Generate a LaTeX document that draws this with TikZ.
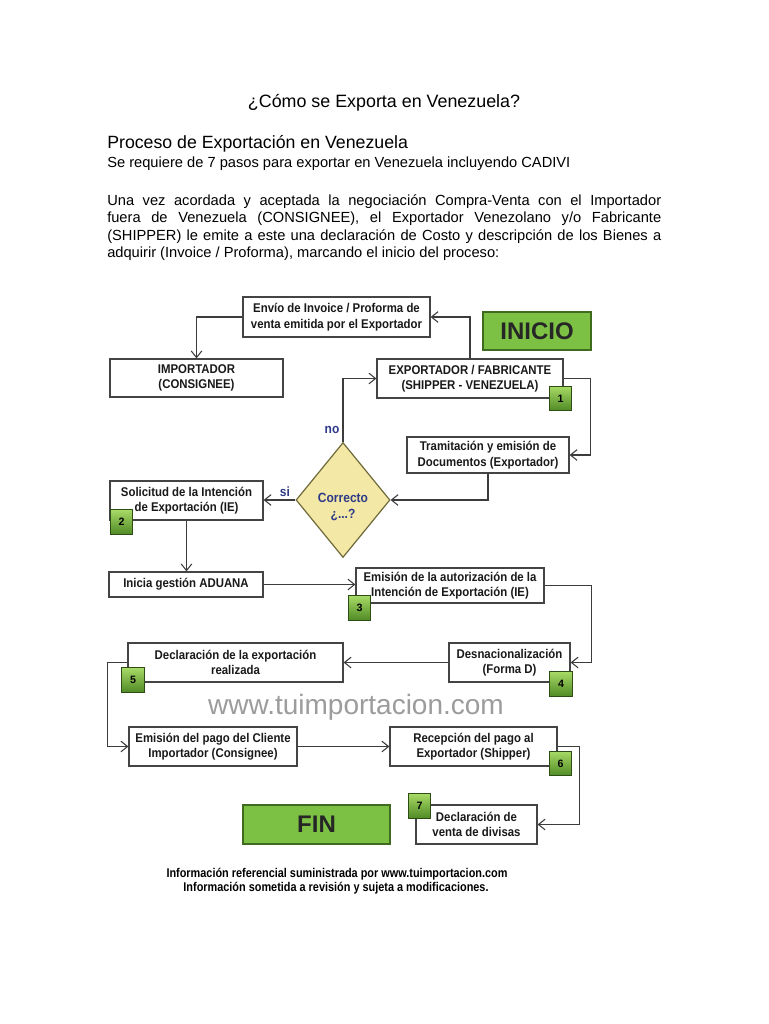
\documentclass[tikz,border=0pt]{standalone}
\usepackage{fontspec}
\setmainfont{Liberation Sans}
\newfontfamily\boxfont{Liberation Sans}[FakeStretch=0.9]
\newfontfamily\footfont{Liberation Sans}[FakeStretch=0.86]
\usetikzlibrary{arrows.meta,shapes.geometric}
\definecolor{boxline}{HTML}{444444}
\definecolor{arrline}{HTML}{3C3C3C}
\definecolor{gfill}{HTML}{7CC144}
\definecolor{gline}{HTML}{3E6B1E}
\definecolor{btop}{HTML}{A8DA66}
\definecolor{bbot}{HTML}{4F8A24}
\definecolor{bline}{HTML}{2E4D16}
\definecolor{dfill}{HTML}{F3E8A6}
\definecolor{dline}{HTML}{6E6A3A}
\definecolor{navy}{HTML}{2F3A88}
\definecolor{wmark}{HTML}{9C9C9C}
\tikzset{
  procbox/.style={draw=boxline, line width=0.9pt, fill=white, inner sep=0pt, align=center,
    text=black!90, font=\boxfont\bfseries\fontsize{9.5}{11.6}\selectfont},
  greenbox/.style={draw=gline, line width=1pt, fill=gfill, inner sep=0pt,
    font=\bfseries\fontsize{18}{20}\selectfont, text=black!85},
  badge/.style={draw=bline, line width=0.8pt, top color=btop, bottom color=bbot,
    minimum width=17pt, minimum height=18.5pt, inner sep=0pt,
    font=\bfseries\fontsize{8}{9}\selectfont, text=black},
  arr/.style={draw=arrline, line width=0.8pt, -{Straight Barb[length=5pt,width=8pt]}},
  navylbl/.style={text=navy, font=\boxfont\bfseries\fontsize{10}{12}\selectfont, inner sep=0pt},
}
\begin{document}
\begin{tikzpicture}[x=0.75pt,y=-0.75pt]
\useasboundingbox (0,0) rectangle (768,1024);
\fill[white] (0,0) rectangle (768,1024);

% header text
\node[anchor=base, inner sep=0pt, font=\fontsize{13.4}{16}\selectfont] (title) at (384,108) {¿Cómo se Exporta en Venezuela?};
\node[anchor=base west, inner sep=0pt, font=\fontsize{13.3}{16}\selectfont] (head) at (107,148) {Proceso de Exportación en Venezuela};
\node[anchor=base west, inner sep=0pt, font=\fontsize{11}{13}\selectfont] (sub) at (107,167) {Se requiere de 7 pasos para exportar en Venezuela incluyendo CADIVI};
\node[anchor=base west, inner sep=0pt, font=\fontsize{11}{13}\selectfont] (p1) at (107,205) {\makebox[415.5pt][s]{Una vez acordada y aceptada la negociación Compra-Venta con el Importador}};
\node[anchor=base west, inner sep=0pt, font=\fontsize{11}{13}\selectfont] (p2) at (107,222.5) {\makebox[415.5pt][s]{fuera de Venezuela (CONSIGNEE), el Exportador Venezolano y/o Fabricante}};
\node[anchor=base west, inner sep=0pt, font=\fontsize{11}{13}\selectfont] (p3) at (107,240) {\makebox[415.5pt][s]{(SHIPPER) le emite a este una declaración de Costo y descripción de los Bienes a}};
\node[anchor=base west, inner sep=0pt, font=\fontsize{11}{13}\selectfont] (p4) at (107,257.5) {adquirir (Invoice / Proforma), marcando el inicio del proceso:};

% watermark
\node[text=wmark, inner sep=0pt, font=\fontsize{21}{24}\selectfont] (wm) at (356,707) {www.tuimportacion.com};

% boxes
\node[procbox, minimum width=140.25pt, minimum height=30pt] (envio) at (336.5,317) {Envío de Invoice / Proforma de\\venta emitida por el Exportador};
\node[greenbox, minimum width=81pt, minimum height=28.5pt] (inicio) at (537,331) {INICIO};
\node[procbox, minimum width=129.75pt, minimum height=28.5pt] (importador) at (196.5,378) {IMPORTADOR\\(CONSIGNEE)};
\node[procbox, minimum width=139.5pt, minimum height=29.25pt] (exportador) at (470,378.5) {EXPORTADOR / FABRICANTE\\(SHIPPER - VENEZUELA)};
\node[procbox, minimum width=121.5pt, minimum height=27pt] (tramitacion) at (488,455) {Tramitación y emisión de\\Documentos (Exportador)};
\node[diamond, draw=dline, line width=0.9pt, fill=dfill, minimum width=70.5pt, minimum height=86.25pt, inner sep=0pt] (decision) at (343,500) {};
\node[navylbl, align=center] (dtext) at (343,507) {Correcto\\¿...?};
\node[procbox, minimum width=114.75pt, minimum height=29.25pt] (solicitud) at (186.5,500.5) {Solicitud de la Intención\\de Exportación (IE)};
\node[procbox, minimum width=115.5pt, minimum height=18.75pt] (inicia) at (186,584.5) {Inicia gestión ADUANA};
\node[procbox, minimum width=141pt, minimum height=26.25pt] (emisionaut) at (450,585.5) {Emisión de la autorización de la\\Intención de Exportación (IE)};
\node[procbox, minimum width=90.75pt, minimum height=29.25pt] (desnac) at (509.5,662.5) {Desnacionalización\\(Forma D)};
\node[procbox, minimum width=161.25pt, minimum height=29.25pt] (declaracion) at (235.5,662.5) {Declaración de la exportación\\realizada};
\node[procbox, minimum width=126pt, minimum height=29.25pt] (emisionpago) at (213,746.5) {Emisión del pago del Cliente\\Importador (Consignee)};
\node[procbox, minimum width=125.25pt, minimum height=29.25pt] (recepcion) at (473.5,746.5) {Recepción del pago al\\Exportador (Shipper)};
\node[procbox, minimum width=90.75pt, minimum height=29.25pt] (divisas) at (476.5,824.5) {Declaración de\\venta de divisas};
\node[greenbox, minimum width=110.25pt, minimum height=29.25pt] (fin) at (316.5,824.5) {FIN};

% labels
\node[navylbl] (no) at (332,430) {no};
\node[navylbl] (si) at (285,492) {si};

% connectors
\draw[arr] (exportador.north) |- (envio.east);
\draw[arr] (envio.west) -| (importador.north);
\draw[arr] (exportador.east) -- ++(27,0) |- (tramitacion.east);
\draw[arr] (tramitacion.south) |- (decision.east);
\draw[arr] (decision.north) |- (exportador.west);
\draw[arr] (decision.west) -- (decision.west -| solicitud.east);
\draw[arr] (solicitud.south) -- (solicitud.south |- inicia.north);
\draw[arr] (inicia.east) -- (inicia.east -| emisionaut.west);
\draw[arr] (emisionaut.east) -- ++(47,0) |- (desnac.east);
\draw[arr] (desnac.west) -- (declaracion.east);
\draw[arr] (declaracion.west) -- ++(-20,0) |- (emisionpago.west);
\draw[arr] (emisionpago.east) -- (recepcion.west);
\draw[arr] (recepcion.east) -- ++(22,0) |- (divisas.east);

% badges
\node[badge] (b1) at (560.5,398.5) {1};
\node[badge] (b2) at (121.5,522) {2};
\node[badge] (b3) at (359.5,608) {3};
\node[badge] (b4) at (561,684) {4};
\node[badge] (b5) at (133,680) {5};
\node[badge] (b6) at (560.5,763.5) {6};
\node[badge] (b7) at (419.5,806) {7};

% footer
\node[anchor=base, inner sep=0pt, font=\footfont\bfseries\fontsize{9.5}{11}\selectfont] (f1) at (337,877) {Información referencial suministrada por www.tuimportacion.com};
\node[anchor=base, inner sep=0pt, font=\footfont\bfseries\fontsize{9.5}{11}\selectfont] (f2) at (336,891) {Información sometida a revisión y sujeta a modificaciones.};
\end{tikzpicture}
\end{document}
